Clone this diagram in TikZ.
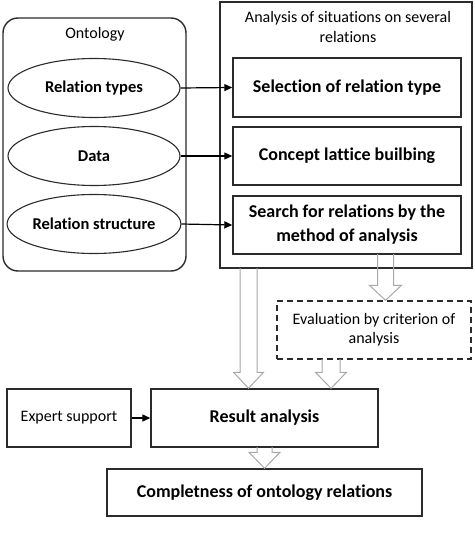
\documentclass[tikz,border=0pt]{standalone}
\usepackage{fontspec}
\setmainfont{Carlito}[Ligatures=NoCommon]
\usetikzlibrary{arrows.meta,shapes.geometric,calc}
\definecolor{ln}{HTML}{2B2B2B}
\definecolor{hol}{HTML}{A8A8A8}
\tikzset{
  box/.style={draw=ln,line width=1.4pt,minimum width=#1,inner sep=0pt},
  box/.default=228pt,
  ell/.style={draw=ln,line width=1.1pt,ellipse,minimum width=172pt,minimum height=59pt,inner sep=0pt,font=\fontsize{16.5}{19}\selectfont\bfseries},
  btxt/.style={font=\fontsize{18}{24}\selectfont\bfseries,align=center},
  rtxt/.style={font=\fontsize{16}{20}\selectfont,align=center},
  conn/.style={draw=black,line width=1.2pt,-{Triangle[length=8pt,width=7pt]}},
  hollow/.style={draw=hol,line width=1pt,line join=miter},
}
% #1 start, #2 tip, #3 half shaft, #4 half head, #5 head length
\newcommand{\harrow}[5]{%
  \draw[hollow] let \p1=(#1), \p2=(#2) in
    (\x1-#3,\y1) -- (\x1-#3,\y2+#5) -- (\x1-#4,\y2+#5) -- (\x1,\y2)
    -- (\x1+#4,\y2+#5) -- (\x1+#3,\y2+#5) -- (\x1+#3,\y1);}
\begin{document}
\begin{tikzpicture}[x=1pt,y=-1pt]
\useasboundingbox (0,0) rectangle (474,543);
% Ontology container
\node[draw=ln,line width=1.4pt,rounded corners=15pt,minimum width=183pt,minimum height=253pt] (onto) at (94.5,144.5) {};
\node[rtxt] (ontot) at (95,34) {Ontology};
\node[ell] (rt) at (94,88) {Relation types};
\node[ell] (da) at (94,156) {Data};
\node[ell] (rs) at (94,224) {Relation structure};
% Analysis container
\node[draw=ln,line width=2pt,minimum width=252pt,minimum height=266pt] (ana) at (346,135) {};
\node[rtxt] (anat) at (348,27) {Analysis of situations on several\\relations};
\node[box,minimum height=59pt,btxt] (sel) at (347,87.5) {Selection of relation type};
\node[box,minimum height=58pt,btxt] (con) at (347,156) {Concept lattice builbing};
\node[box,minimum height=58pt,btxt] (sea) at (347,225) {Search for relations by the\\method of analysis};
% connectors
\draw[conn] (rt.east) -- (sel.west);
\draw[conn] (da.east) -- (con.west);
\draw[conn] (rs.east) -- (sea.west);
% Evaluation
\node[draw=ln,line width=1.4pt,dash pattern=on 6pt off 4pt,minimum width=194pt,minimum height=58pt,rtxt,font=\fontsize{16}{19}\selectfont] (eva) at (374,330) {Evaluation by criterion of\\analysis};
% Result and expert
\node[box=227pt,minimum height=58pt,btxt] (res) at (264.5,418) {Result analysis};
\node[box=124pt,minimum height=58pt,rtxt] (exp) at (69,418) {Expert support};
\node[box=315pt,minimum height=47pt,btxt] (com) at (264.5,492.5) {Completness of ontology relations};
\draw[conn] (exp.east) -- (res.west);
% hollow arrows
\coordinate (a1) at (248.5,268);
\coordinate (a2) at (385.5,254);
\coordinate (a3) at (331,359);
\coordinate (a4) at (264.5,447);
\harrow{a1}{a1 |- res.north}{8.5pt}{15pt}{16pt}
\harrow{a2}{a2 |- eva.north}{8pt}{16pt}{15pt}
\harrow{a3}{a3 |- res.north}{9pt}{15.5pt}{16pt}
\harrow{a4}{a4 |- com.north}{7.5pt}{15.5pt}{16pt}
\end{tikzpicture}
\end{document}
